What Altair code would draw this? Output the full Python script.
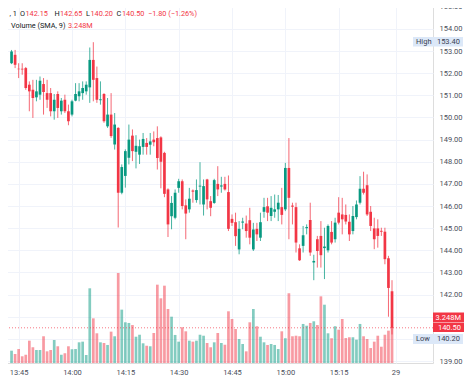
import altair as alt
import pandas as pd

# minutes after 13:00 (1-minute candles, 13:43 .. 15:30)
minute = list(range(43, 151))

opens = [152.45, 152.83, 152.20, 152.20, 152.23, 151.48, 151.25, 150.91, 151.03, 151.51,
         151.10, 151.10, 150.28, 151.06, 150.28, 150.80, 150.28, 150.13, 150.76, 150.96,
         151.10, 151.18, 151.36, 152.60, 151.78, 150.78, 151.06, 149.60, 150.13, 148.78,
         149.53, 146.60, 147.36, 148.18, 149.18, 148.45, 148.32, 148.67, 148.85, 148.77,
         149.00, 149.07, 149.10, 148.40, 146.75, 145.54, 145.47, 146.82, 147.12, 146.03,
         145.85, 146.70, 146.27, 146.88, 146.07, 147.20, 146.22, 146.14, 147.00, 146.88,
         147.00, 146.63, 145.42, 145.27, 144.04, 145.25, 145.21, 145.36, 144.04, 144.97,
         144.57, 145.74, 145.99, 145.55, 145.74, 145.85, 145.95, 145.85, 147.72, 146.02,
         145.95, 144.09, 144.20, 145.00, 145.37, 143.45, 144.50, 144.65, 144.10, 144.00,
         144.83, 144.50, 145.70, 145.62, 145.60, 145.29, 144.87, 145.50, 146.15, 146.78,
         146.94, 145.74, 144.99, 144.99, 144.88, 144.84, 143.64, 142.15]

highs = [153.05, 153.05, 152.45, 152.45, 152.28, 151.63, 151.70, 151.70, 151.85, 151.78,
         151.70, 151.33, 151.06, 151.18, 150.88, 151.03, 150.58, 150.80, 151.55, 151.55,
         151.63, 151.63, 153.16, 153.40, 152.30, 151.63, 151.10, 150.88, 151.10, 150.20,
         149.56, 147.88, 148.56, 149.68, 149.46, 149.20, 149.00, 149.30, 149.07, 149.30,
         149.37, 149.60, 149.15, 148.45, 146.80, 146.45, 146.75, 147.23, 147.20, 146.30,
         146.82, 146.75, 147.20, 147.98, 147.20, 147.23, 146.45, 147.23, 147.80, 147.32,
         147.32, 147.38, 145.62, 145.70, 145.32, 145.47, 145.57, 145.92, 145.24, 145.24,
         145.70, 146.37, 146.37, 146.45, 146.52, 146.50, 146.82, 147.95, 149.07, 146.15,
         146.15, 144.27, 145.10, 145.17, 146.15, 143.80, 144.65, 145.32, 145.02, 145.17,
         145.32, 145.47, 146.40, 146.37, 146.07, 145.62, 146.00, 146.25, 147.35, 147.55,
         147.43, 146.00, 145.47, 145.40, 145.02, 145.02, 143.75, 142.65]

lows = [152.41, 152.23, 151.78, 151.93, 151.25, 150.28, 149.98, 150.73, 150.80, 150.13,
        150.43, 150.05, 149.90, 149.98, 150.13, 150.20, 149.65, 150.05, 150.73, 150.73,
        150.80, 151.03, 150.66, 150.73, 150.66, 150.58, 149.76, 149.53, 149.08, 148.55,
        145.03, 146.53, 146.83, 147.88, 148.03, 147.70, 147.90, 148.32, 148.32, 148.32,
        148.70, 147.65, 146.80, 146.40, 144.60, 144.95, 145.40, 146.60, 145.85, 144.50,
        145.70, 146.15, 146.15, 146.07, 145.57, 145.85, 145.54, 146.10, 146.45, 146.60,
        146.70, 144.87, 145.10, 144.20, 143.82, 144.95, 144.57, 144.27, 143.97, 144.42,
        144.42, 145.47, 145.32, 145.32, 145.47, 145.32, 145.17, 145.77, 144.50, 145.17,
        143.90, 143.52, 143.90, 144.72, 143.75, 142.65, 143.22, 143.22, 142.70, 143.90,
        144.27, 144.35, 145.17, 144.72, 145.17, 144.42, 144.72, 145.40, 146.07, 146.52,
        145.55, 144.87, 144.05, 144.12, 144.65, 143.37, 141.00, 140.20]

closes = [152.98, 152.38, 152.18, 152.17, 151.33, 151.18, 150.88, 151.18, 151.66, 151.15,
          150.80, 150.28, 150.80, 150.43, 150.76, 150.28, 149.83, 150.73, 151.06, 151.18,
          151.33, 151.48, 152.60, 151.70, 150.80, 150.82, 149.83, 150.13, 149.16, 149.68,
          146.60, 147.76, 148.48, 149.00, 148.48, 148.72, 148.70, 149.03, 148.67, 148.92,
          148.88, 148.17, 148.00, 146.55, 145.17, 146.14, 146.60, 147.12, 146.00, 145.66,
          146.33, 146.65, 146.72, 146.92, 146.90, 146.30, 145.92, 147.17, 146.75, 146.93,
          146.75, 144.97, 145.24, 144.64, 144.97, 145.30, 144.87, 144.57, 144.94, 144.72,
          145.27, 145.95, 145.70, 145.92, 145.85, 146.15, 145.60, 147.72, 146.37, 145.97,
          144.35, 143.55, 144.68, 145.05, 143.90, 143.52, 143.97, 143.78, 144.17, 145.10,
          144.35, 145.25, 145.25, 145.40, 145.30, 144.72, 145.55, 146.07, 146.78, 146.60,
          145.62, 145.10, 144.50, 144.65, 144.84, 143.60, 142.30, 140.50]

# volume in millions
volumes = [1.12, 0.82, 1.27, 0.61, 0.75, 2.03, 1.43, 1.18, 1.18, 2.43,
           1.06, 1.18, 2.09, 1.52, 0.75, 0.88, 1.52, 1.25, 1.27, 1.88,
           1.94, 0.73, 6.79, 4.06, 2.70, 1.88, 1.82, 1.64, 2.85, 2.43,
           8.18, 4.85, 3.70, 3.64, 3.45, 2.39, 2.57, 1.79, 1.57, 1.52,
           2.73, 7.12, 5.88, 7.03, 4.91, 4.21, 2.55, 1.94, 3.25, 2.88,
           2.03, 1.94, 2.03, 2.57, 2.48, 1.82, 1.43, 1.88, 2.73, 1.82,
           1.66, 4.70, 4.00, 3.09, 2.18, 1.73, 1.06, 3.70, 4.91, 3.34,
           2.39, 1.88, 1.64, 1.73, 1.64, 1.27, 2.88, 2.25, 6.34, 2.43,
           2.48, 2.43, 3.55, 3.39, 3.64, 3.79, 3.45, 6.06, 5.30, 2.70,
           2.25, 3.34, 3.03, 4.00, 2.27, 2.34, 2.34, 2.12, 3.55, 2.43,
           2.18, 1.36, 1.94, 2.48, 1.48, 2.57, 2.94, 3.248]

price_ticks = list(range(139, 156))
hidden_price_labels = [140, 141]  # covered by the last-value labels
time_ticks = [45, 60, 75, 90, 105, 120, 135, 151]
time_labels = ["13:45", "14:00", "14:15", "14:30", "14:45", "15:00", "15:15", "29"]

UP = "#089981"
DOWN = "#F23645"
TXT = "#131722"
AXT = "#4A4E5A"
GRID = "#F0F3FA"
FONT = "Roboto"
W, H = 433, 363

df = pd.DataFrame({"t": minute, "open": opens, "high": highs, "low": lows,
                   "close": closes, "vol": volumes})

label_expr = " : ".join(f"datum.value == {v} ? '{s}'" for v, s in zip(time_ticks, time_labels)) + " : ''"
price_label_expr = " || ".join(f"datum.value == {v}" for v in hidden_price_labels) + " ? '' : format(datum.value, '.2f')"

x_enc = alt.X("t:Q",
              scale=alt.Scale(domain=[41.16, 160.12], nice=False, zero=False),
              axis=alt.Axis(values=time_ticks, labelExpr=label_expr, grid=True,
                            gridColor=GRID, gridWidth=1, tickSize=0, domain=False,
                            labelFontSize=7.5, labelColor=AXT, labelFont=FONT,
                            labelPadding=5, labelFlush=False, labelOverlap=False,
                            title=None))

price_scale = alt.Scale(domain=[138.91, 155.306], nice=False, zero=False)
price_axis = alt.Axis(orient="right", values=price_ticks, labelExpr=price_label_expr, grid=True,
                      gridColor=GRID, gridWidth=1, tickSize=0, domain=False,
                      labelFontSize=7.5, labelColor=AXT, labelFont=FONT,
                      labelPadding=6, labelOverlap=False, labelBound=False, title=None)

color_enc = alt.Color("dir:N", scale=alt.Scale(domain=["up", "down"], range=[UP, DOWN]), legend=None)

base = alt.Chart(df).transform_calculate(dir="datum.close >= datum.open ? 'up' : 'down'")

vol_layer = base.mark_bar(width=2.7, opacity=0.5).encode(
    x=x_enc,
    y=alt.Y("vol:Q", scale=alt.Scale(domain=[0, 33], nice=False), axis=None),
    color=color_enc,
)

wicks = base.mark_rule(strokeWidth=1, opacity=0.75).encode(
    x=x_enc,
    y=alt.Y("low:Q", scale=price_scale, axis=price_axis),
    y2="high:Q",
    color=color_enc,
)

bodies = base.mark_bar(width=2.7).encode(
    x=x_enc,
    y=alt.Y("open:Q", scale=price_scale, axis=price_axis),
    y2="close:Q",
    color=color_enc,
)

one = alt.Chart(alt.Data(values=[{}]))

last_close = closes[-1]
price_line = one.mark_rule(color=DOWN, strokeDash=[1, 2], strokeWidth=0.8, opacity=0.85).encode(
    y=alt.datum(last_close, scale=price_scale, axis=price_axis)
)

annotations = []

def box(x1, x2, y1, y2, fill):
    return one.mark_rect(color=fill).encode(
        x=alt.value(x1), x2=alt.value(x2), y=alt.value(y1), y2=alt.value(y2))

def txt(s, x, y, color, align="left", size=7.5):
    return one.mark_text(text=s, align=align, baseline="middle", font=FONT,
                         fontSize=size, color=color).encode(
        x=alt.value(x), y=alt.value(y))

# High / Low / last price / volume labels on the price scale
hi = max(highs)
lo = min(lows)
annotations += [
    box(413, 463, 37, 46.5, "#DCE8F8"),
    txt("High", 416, 42, "#3B4252"),
    txt(f"{hi:.2f}", 460, 42, "#3B4252", align="right"),
    box(433, 464, 312.5, 322, DOWN),
    txt(f"{volumes[-1]:.3f}M", 461, 317.5, "white", align="right"),
    box(433, 464, 322.5, 332, DOWN),
    txt(f"{last_close:.2f}", 461, 327.5, "white", align="right"),
    box(413, 463, 334, 344, "#DCE8F8"),
    txt("Low", 416, 339, "#3B4252"),
    txt(f"{lo:.2f}", 460, 339, "#3B4252", align="right"),
]

# legend (top-left)
chg = last_close - closes[-2]
pct = chg / closes[-2] * 100
minus = "\u2212"
chg_s = f"{minus if chg < 0 else '+'}{abs(chg):.2f} ({minus if pct < 0 else '+'}{abs(pct):.2f}%)"
row1, row2, fs = 13.5, 25.5, 7.3
annotations += [
    txt(", 1", 9.5, row1, TXT, size=fs),
    txt("O", 20, row1, TXT, size=fs),
    txt(f"{opens[-1]:.2f}", 25.5, row1, DOWN, size=fs),
    txt("H", 54.5, row1, TXT, size=fs),
    txt(f"{highs[-1]:.2f}", 60, row1, DOWN, size=fs),
    txt("L", 86, row1, TXT, size=fs),
    txt(f"{lows[-1]:.2f}", 90.5, row1, DOWN, size=fs),
    txt("C", 116.5, row1, TXT, size=fs),
    txt(f"{closes[-1]:.2f}", 122, row1, DOWN, size=fs),
    txt(chg_s, 148, row1, DOWN, size=fs),
    txt("Volume (SMA, 9)", 11, row2, TXT, size=fs),
    txt(f"{volumes[-1]:.3f}M", 68, row2, DOWN, size=fs),
]

price_layer = alt.layer(wicks, bodies, price_line, *annotations)

chart = alt.layer(vol_layer, price_layer).resolve_scale(y="independent").properties(
    width=W, height=H,
    padding={"left": -8, "top": -8, "right": 33, "bottom": 16},
    autosize=alt.AutoSizeParams(type="none"),
).configure_view(strokeWidth=0).configure(background="white")

chart.save("out.html", embed_options={"renderer": "svg", "actions": False})
